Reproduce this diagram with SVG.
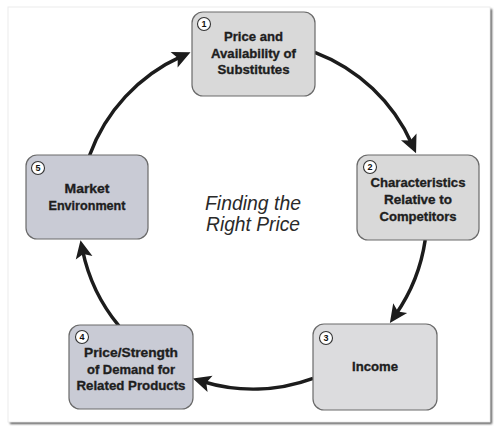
<svg xmlns="http://www.w3.org/2000/svg" width="500" height="432" viewBox="0 0 500 432">
<defs>
<style>
.box{stroke:#6a6a6a;stroke-width:1.2}
.a{fill:#d9d9d9}
.b{fill:#c9cbd5}
.lbl{font-family:"Liberation Sans",Arial,sans-serif;font-weight:bold;font-size:13.5px;fill:#1e1e1e;stroke:#1e1e1e;stroke-width:0.35;text-anchor:middle}
.badge{fill:#fff;stroke:#333;stroke-width:1.1}
.num{font-family:"Liberation Sans",Arial,sans-serif;font-weight:bold;font-size:9px;fill:#111;text-anchor:middle}
.ttl{font-family:"Liberation Sans",Arial,sans-serif;font-style:italic;font-size:19.5px;fill:#2a2a2a;text-anchor:middle}
.arr{fill:none;stroke:#1c1c1c;stroke-width:3.5}
</style>
<marker id="ah" markerUnits="userSpaceOnUse" viewBox="-9 -10 24 20" markerWidth="24" markerHeight="20" refX="0" refY="0" orient="auto" overflow="visible">
<path d="M10,0 L-8,-8.5 L-4,0 L-8,8.5 Z" fill="#1c1c1c"/>
</marker>
<filter id="sh" x="-5%" y="-5%" width="110%" height="110%"><feGaussianBlur stdDeviation="1.2"/></filter>
</defs>
<rect width="500" height="432" fill="#fff"/>
<rect x="10" y="9" width="482" height="415" fill="#555" filter="url(#sh)"/>
<rect x="8" y="7" width="482" height="415" fill="#fff" stroke="#ececec" stroke-width="1"/>

<g id="connectors">
<path class="arr" d="M314.8,52.3 A174,174 0 0 1 412.0,144.2" marker-end="url(#ah)"/>
<path class="arr" d="M425.2,240.1 A174,174 0 0 1 395.6,314.7" marker-end="url(#ah)"/>
<path class="arr" d="M313.1,378.3 A174,174 0 0 1 202.4,381.5" marker-end="url(#ah)"/>
<path class="arr" d="M118.9,325.9 A174,174 0 0 1 82.5,250.0" marker-end="url(#ah)"/>
<path class="arr" d="M89.5,155.5 A174,174 0 0 1 181.4,56.4" marker-end="url(#ah)"/>
</g>

<g id="title">
<text class="ttl" x="253" y="209.5" textLength="96" lengthAdjust="spacingAndGlyphs">Finding the</text>
<text class="ttl" x="253" y="231" textLength="94" lengthAdjust="spacingAndGlyphs">Right Price</text>
</g>

<g id="node1">
<rect class="box a" x="192" y="12" width="123" height="84" rx="11"/>
<circle class="badge" cx="204" cy="24" r="6.5"/>
<text class="num" x="204" y="27.3">1</text>
<text class="lbl" x="253.5" y="41" textLength="59" lengthAdjust="spacingAndGlyphs">Price and</text>
<text class="lbl" x="253.5" y="57.5" textLength="85" lengthAdjust="spacingAndGlyphs">Availability of</text>
<text class="lbl" x="253.5" y="73.5" textLength="72" lengthAdjust="spacingAndGlyphs">Substitutes</text>
</g>

<g id="node2">
<rect class="box a" x="357" y="155" width="122" height="85" rx="11"/>
<circle class="badge" cx="370" cy="167" r="6.5"/>
<text class="num" x="370" y="170.3">2</text>
<text class="lbl" x="418" y="187" textLength="95" lengthAdjust="spacingAndGlyphs">Characteristics</text>
<text class="lbl" x="418" y="204" textLength="68" lengthAdjust="spacingAndGlyphs">Relative to</text>
<text class="lbl" x="418" y="221" textLength="77" lengthAdjust="spacingAndGlyphs">Competitors</text>
</g>

<g id="node3">
<rect class="box a" x="313" y="324" width="124" height="86" rx="11" style="fill:#dcdcde"/>
<circle class="badge" cx="326" cy="338" r="6.5"/>
<text class="num" x="326" y="341.3">3</text>
<text class="lbl" x="375" y="371" textLength="46" lengthAdjust="spacingAndGlyphs">Income</text>
</g>

<g id="node4">
<rect class="box b" x="69" y="325" width="124" height="84" rx="11"/>
<circle class="badge" cx="82" cy="337" r="6.5"/>
<text class="num" x="82" y="340.3">4</text>
<text class="lbl" x="131" y="357" textLength="94" lengthAdjust="spacingAndGlyphs">Price/Strength</text>
<text class="lbl" x="131" y="373.5" textLength="88" lengthAdjust="spacingAndGlyphs">of Demand for</text>
<text class="lbl" x="131" y="390" textLength="109" lengthAdjust="spacingAndGlyphs">Related Products</text>
</g>

<g id="node5">
<rect class="box b" x="26" y="155" width="122" height="84" rx="11"/>
<circle class="badge" cx="38" cy="168" r="6.5"/>
<text class="num" x="38" y="171.3">5</text>
<text class="lbl" x="87" y="193" textLength="45" lengthAdjust="spacingAndGlyphs">Market</text>
<text class="lbl" x="87" y="210" textLength="77" lengthAdjust="spacingAndGlyphs">Environment</text>
</g>
</svg>
